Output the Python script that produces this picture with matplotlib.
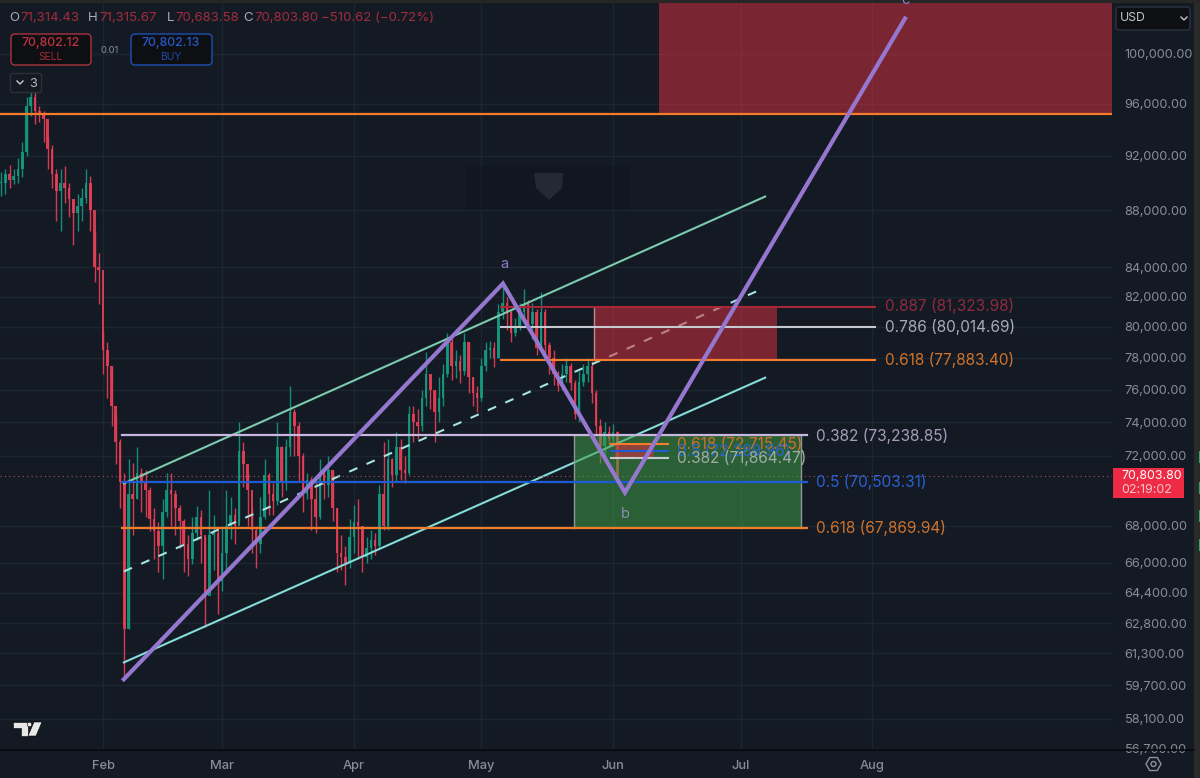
import numpy as np
import matplotlib
matplotlib.use("Agg")
import matplotlib.pyplot as plt
from matplotlib.patches import FancyBboxPatch, Rectangle, Polygon, RegularPolygon, Circle
from matplotlib.ticker import NullLocator, NullFormatter

plt.rcParams['font.family'] = ['Inter', 'DejaVu Sans']

# ---- data (day of year, prices in USD) ----
first_day = 7
closes = [90.0,90.6,90.2,90.5,91.0,92.3,95.8,96.5,95.4,95.2,94.8,92.5,90.6,89.4,90.0,89.6,88.8,87.8,88.3,88.9,90.0,88.0,84.0,83.8,
          78.5,77.5,75.0,72.8,70.5,62.5,69.8,69.5,71.0,70.4,70.0,68.4,67.7,66.9,68.8,70.0,69.8,69.0,68.3,67.0,66.2,67.6,68.5,67.5,64.2,
          67.5,67.6,65.0,66.5,68.0,68.6,68.0,72.3,71.5,70.0,67.8,67.0,68.5,70.9,69.8,69.4,72.5,70.5,72.5,74.6,73.8,72.0,69.8,70.6,69.5,68.5,
          71.0,70.3,71.2,69.0,66.5,66.3,66.0,67.4,68.2,68.0,66.3,66.8,67.2,66.9,69.8,68.0,71.8,70.9,72.5,71.2,71.0,74.5,74.0,73.8,75.5,77.0,
          76.0,74.6,75.5,77.0,79.0,77.5,77.8,77.2,79.0,76.8,75.8,75.5,77.5,78.5,78.6,78.0,81.0,81.6,81.0,79.6,80.0,81.0,81.5,80.2,81.0,78.6,
          81.0,78.8,78.0,77.0,76.2,77.0,77.5,76.4,74.5,76.5,77.0,77.5,75.8,73.8,72.6,73.4,73.0,73.4,70.8]
highs = [90.8,91.0,91.3,91.0,91.8,93.0,96.5,97.3,96.9,95.8,95.4,93.4,92.8,91.0,91.0,91.2,90.0,88.8,89.2,89.6,91.0,90.5,86.5,85.0,
         79.7,79.0,77.5,74.5,73.0,71.0,71.8,71.6,72.5,71.3,71.2,70.2,69.0,68.2,69.5,71.0,71.0,70.0,69.2,68.4,67.5,68.5,69.1,68.9,67.4,
         70.0,68.6,67.8,68.0,70.0,69.6,69.0,74.0,72.8,71.0,69.0,68.0,69.6,71.8,71.0,70.4,74.0,72.6,73.0,76.2,74.8,74.0,72.2,71.0,70.8,70.5,
         71.8,71.3,72.0,71.2,69.0,67.5,66.9,68.4,69.2,69.5,68.0,67.4,67.8,67.6,70.3,72.8,73.0,71.9,73.4,73.0,72.0,75.0,75.0,74.8,76.0,78.4,
         77.0,76.0,76.8,77.6,79.6,79.3,78.5,78.2,79.6,79.0,76.8,76.2,78.0,79.0,79.1,79.0,81.5,82.8,82.0,81.2,80.6,81.6,82.5,81.8,81.6,81.2,
         82.3,81.2,79.0,78.5,77.2,77.6,78.0,77.7,76.6,77.2,77.6,78.0,77.8,76.0,74.2,74.0,73.8,73.9,73.5]
lows = [89.0,89.2,89.6,89.9,90.0,90.4,92.0,95.0,94.4,94.6,93.0,91.0,89.6,87.2,86.5,88.5,87.5,85.5,86.5,87.2,88.5,86.5,83.0,81.5,
        77.0,75.5,73.8,71.5,69.0,60.0,62.5,67.5,69.5,68.8,68.5,67.7,66.2,65.5,65.1,68.5,68.0,67.5,66.8,65.5,65.3,65.9,67.2,66.0,62.6,
        65.5,65.6,63.3,64.5,65.5,67.3,67.0,68.2,70.2,68.0,66.5,65.7,66.5,68.4,68.6,68.6,69.2,69.6,70.0,72.0,72.0,70.5,68.8,69.5,67.8,67.6,
        68.4,69.5,69.6,68.3,65.5,65.6,64.8,65.7,66.5,66.2,65.5,66.0,66.2,66.4,66.8,67.8,67.8,70.2,70.5,70.6,70.4,70.9,72.8,73.0,73.5,75.0,
        74.8,72.8,74.0,75.0,76.8,76.6,76.7,76.4,76.9,75.8,75.0,74.6,75.3,77.2,78.0,77.4,78.0,80.5,79.8,79.0,79.4,79.8,80.2,79.8,79.2,78.2,
        78.5,78.3,77.0,76.3,75.9,76.0,76.5,76.0,74.2,74.0,76.2,76.5,75.2,73.2,71.6,71.8,72.5,72.6,70.7]

wave_days = [35.9, 125.1, 153.8, 219.7]
wave_prices = [60000, 82880, 69880, 102900]
wave_names = ['a', 'b', 'c']

channel_days = [35.9, 186.8]
channel_top = [70400, 88980]
channel_mid = [65520, 82610]
channel_low = [60830, 76750]

top_level = 95180
last_price = 70803.80
fib_long = [('0.382 (73,238.85)', 73238.85), ('0.5 (70,503.31)', 70503.31), ('0.618 (67,869.94)', 67869.94)]
fib_high = [('0.887 (81,323.98)', 81323.98), ('0.786 (80,014.69)', 80014.69), ('0.618 (77,883.40)', 77883.40)]
fib_small = [('0.618 (72,715.45)', 72715.45), ('0.5 (72,289.96)', 72289.96), ('0.382 (71,864.47)', 71864.47)]

price_ticks = [100000, 96000, 92000, 88000, 84000, 82000, 80000, 78000, 76000, 74000, 72000,
               68000, 66000, 64400, 62800, 61300, 59700, 58100, 56700]
month_days = [31, 59, 90, 120, 151, 181, 212]
month_names = ['Feb', 'Mar', 'Apr', 'May', 'Jun', 'Jul', 'Aug']

# ---- style ----
BG = '#131a24'
GRID = '#1d2530'
RED = '#e83f55'
GREEN = '#159a80'
PURPLE = '#9677cf'
ORANGE = '#f57c2b'
BLUE = '#1e5ad2'
LAV = '#c8b6de'
WHITE = '#c6c9d0'
DRED = '#a8283a'
TICK = '#878d97'

fig = plt.figure(figsize=(12, 7.78), dpi=100, facecolor=BG)
ax = fig.add_axes([0, 28/778, 1112/1200, 750/778], facecolor=BG)
ax.set_yscale('log')
ax.set_xlim(6.76, 268.4)
ax.set_ylim(56634, 104465)
ax.yaxis.set_minor_locator(NullLocator())
ax.yaxis.set_minor_formatter(NullFormatter())
ax.yaxis.tick_right()
ax.set_yticks(price_ticks)
ax.set_yticklabels([f'{t:,.2f}' for t in price_ticks], fontsize=9.2, color=TICK)
ax.set_xticks(month_days)
ax.set_xticklabels(month_names, fontsize=9.3, color=TICK, fontweight='medium')
ax.tick_params(axis='y', length=0, pad=9)
ax.tick_params(axis='x', length=0, pad=7)
ax.grid(True, color=GRID, lw=1, zorder=0)
ax.set_axisbelow(True)
for s in ax.spines.values():
    s.set_visible(False)

# candles
days = first_day + np.arange(len(closes))
c = np.array(closes) * 1000
o = np.r_[c[0], c[:-1]]
h = np.array(highs) * 1000
l = np.array(lows) * 1000
col = [GREEN if a >= b else RED for a, b in zip(c, o)]
ax.vlines(days, l, h, colors=col, lw=1.0, alpha=0.9, zorder=2)
ax.bar(days, np.maximum(np.abs(c - o), 60), bottom=np.minimum(c, o), width=0.6, color=col,
       alpha=0.9, lw=0, zorder=2)

# channel
ax.plot(channel_days, channel_top, color='#7ccbae', lw=1.5, zorder=3)
ax.plot(channel_days, channel_low, color='#85dcd8', lw=1.5, zorder=3)
ax.plot(channel_days, channel_mid, color='#a5e3e0', lw=1.5, ls=(0, (4.3, 4.8)), zorder=3)

# boxes
ax.fill_between([161.8, 268.4], top_level, 110000, color='#d0303f', alpha=0.55, lw=0, zorder=4)
ax.fill_between([146.5, 189.6], fib_high[2][1], fib_high[0][1], color='#d0303f', alpha=0.55, lw=0, zorder=4)
ax.fill_between([141.9, 195.2], fib_long[2][1], fib_long[0][1], color='#3f9b45', alpha=0.55, lw=0, zorder=4)
ax.fill_between([151.5, 160.6], fib_small[2][1], fib_small[0][1], color='#d0303f', alpha=0.6, lw=0, zorder=4)
ax.plot([146.5, 146.5], [fib_high[2][1], fib_high[0][1]], color='#c08a90', lw=1, zorder=4)
ax.plot([141.9, 141.9], [fib_long[2][1], fib_long[0][1]], color='#8a9a8e', lw=1, zorder=4)
ax.plot([195.2, 195.2], [fib_long[2][1], fib_long[0][1]], color='#8a9a8e', lw=1, zorder=4)

# levels
ax.axhline(top_level, color=ORANGE, lw=1.6, zorder=5)
ax.axhline(last_price, color='#b0505a', lw=0.8, ls=(0, (1, 3)), zorder=3)
for (t, v), cl in zip(fib_long, [LAV, BLUE, ORANGE]):
    ax.plot([35.5, 196.6], [v, v], color=cl, lw=1.6, zorder=5)
for (t, v), cl in zip(fib_high, [DRED, WHITE, ORANGE]):
    ax.plot([124.6, 212.6], [v, v], color=cl, lw=1.5, zorder=5)
for (t, v), cl in zip(fib_small, [ORANGE, BLUE, WHITE]):
    ax.plot([150.5, 163.9], [v, v], color=cl, lw=1.5, zorder=5)

# wave
ax.plot(wave_days, wave_prices, color=PURPLE, lw=3.0, solid_joinstyle='miter', zorder=6)

# ---- overlay in pixel coordinates ----
ui = fig.add_axes([0, 0, 1, 1], facecolor='none')
ui.set_xlim(0, 1200)
ui.set_ylim(778, 0)
ui.axis('off')

# watermark
ui.add_patch(Rectangle((465, 165), 165, 45, fc='#0f151e', ec='none', alpha=0.55))
ui.add_patch(Polygon([[534, 173], [563, 173], [562, 188], [549, 200], [536, 188]], fc='#2a303a', ec='none', alpha=0.8))

# x axis strip + frame
ui.plot([0, 1194], [750, 750], color='#07090d', lw=1.2)
ui.add_patch(Rectangle((1194, 0), 6, 778, fc='#2a2a2a', ec='none'))
ui.add_patch(Rectangle((0, 0), 1200, 3, fc='#262626', ec='none'))
for yy in (457, 488, 516, 545):
    ui.add_patch(Rectangle((1198.5, yy - 6), 1.5, 12, fc='#27ae60', ec='none'))


def T(x, y, s, c, fs=11.1, **k):
    k.setdefault('va', 'center')
    k.setdefault('ha', 'left')
    ui.text(x, y, s, color=c, fontsize=fs, **k)


# header
hr = '#a32c3c'
hg = '#a9acb2'
hx = [(9, 'O', hg), (20, '71,314.43', hr), (88, 'H', hg), (99, '71,315.67', hr),
      (167, 'L', hg), (175, '70,683.58', hr), (243, 'C', hg), (254, '70,803.80', hr),
      (321, '\u2212510.62 (\u22120.72%)', hr)]
for x, s, cl in hx:
    T(x, 18, s, cl, fs=9.5)

ui.add_patch(FancyBboxPatch((11, 34), 80, 31, boxstyle='round,pad=0,rounding_size=4', fc='#0e0f12', ec='#a8333f', lw=1))
ui.add_patch(FancyBboxPatch((131, 34), 81, 31, boxstyle='round,pad=0,rounding_size=4', fc='#0e0f12', ec='#1f4fb4', lw=1))
T(51, 43, '70,802.12', '#c0323f', fs=8.9, ha='center', fontweight='medium')
T(51, 57, 'SELL', '#a12c38', fs=7.4, ha='center')
T(171, 43, '70,802.13', '#2559c8', fs=8.9, ha='center', fontweight='medium')
T(171, 57, 'BUY', '#1f4aa8', fs=7.4, ha='center')
T(110, 50, '0.01', '#8d9096', fs=6.8, ha='center')

ui.add_patch(FancyBboxPatch((10.5, 73.5), 31, 19, boxstyle='round,pad=0,rounding_size=2', fc='#141a22', ec='#2a303a', lw=1))
ui.plot([17, 20, 23], [81, 84, 81], color='#c8cad0', lw=1)
T(33, 84, '3', '#b7babf', fs=9.2, ha='center')

# USD box
ui.add_patch(FancyBboxPatch((1116, 7), 74, 23, boxstyle='round,pad=0,rounding_size=3', fc='#0e0f12', ec='#2b3440', lw=1))
T(1120, 18, 'USD', '#c5c7cc', fs=8.8)
ui.plot([1181, 1184, 1187], [17, 20, 17], color='#c5c7cc', lw=1)

# price tag
ui.add_patch(Rectangle((1112.5, 468), 71.5, 30, fc='#ee2b45', ec='none'))
T(1121, 476, '70,803.80', '#ffffff', fs=8.9)
T(1121, 490, '02:19:02', '#f6c4cb', fs=8.9)

# settings icon
ui.add_patch(RegularPolygon((1153.5, 764), 6, radius=7.5, orientation=np.pi / 2, fc='none', ec='#8d9199', lw=1))
ui.add_patch(Circle((1153.5, 764), 2.5, fc='none', ec='#8d9199', lw=1))

# logo
W = '#e8e8e8'
ui.add_patch(Polygon([[13, 722], [28, 722], [28, 736], [21, 736], [21, 728], [13, 728]], fc=W, ec='#000000', lw=0.4))
ui.add_patch(Circle((29.5, 724.5), 2.3, fc=W, ec='#000000', lw=0.4))
ui.add_patch(Polygon([[34, 722], [42, 722], [36, 736], [28, 736]], fc=W, ec='#000000', lw=0.4))

# labels
for (t, v), cl, y in zip(fib_long, ['#a79cb9', '#2a5fd0', '#cf722b'], [436, 482, 528]):
    T(816, y, t, cl)
for (t, v), cl, y in zip(fib_high, ['#8e2a40', '#a8acb6', '#cf722b'], [306, 327, 360]):
    T(885, y, t, cl)
for (t, v), cl, y in zip(fib_small, ['#cf722b', '#2a66c8', '#a2aca6'], [444, 451, 458]):
    T(677, y, t, cl)
for s, x, y in zip(wave_names, [504, 625, 905], [264, 514, 0]):
    T(x, y, s, '#8f78c8' if s != 'b' else '#8a8fb0', fs=10.5, ha='center')

fig.savefig('out.png', dpi=100, facecolor=BG)
